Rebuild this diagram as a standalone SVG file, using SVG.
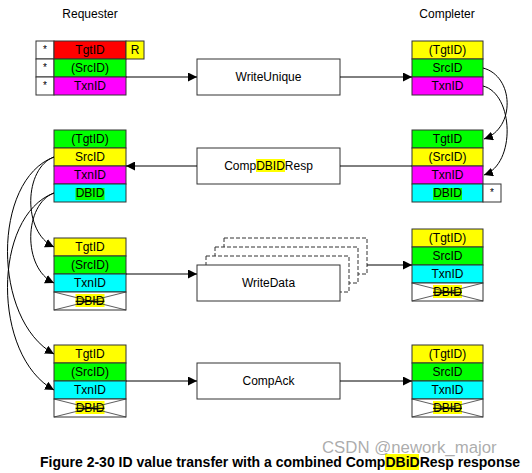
<svg xmlns="http://www.w3.org/2000/svg" width="532" height="473" viewBox="0 0 532 473">
<defs>
<style>
text{font-family:"Liberation Sans",Arial,sans-serif;font-size:12px;fill:#000;}
.c{text-anchor:middle;}
.cell{stroke:#333;stroke-width:1;}
.red{fill:#ff0000;}.grn{fill:#00ff00;}.mag{fill:#ff00ff;}.yel{fill:#ffff00;}.cyn{fill:#00ffff;}.wht{fill:#fff;}
.box{fill:#fff;stroke:#333;stroke-width:1;}
.dash{fill:#fff;stroke:#333;stroke-width:1;stroke-dasharray:4,2;}
.ln{fill:none;stroke:#000;stroke-width:1;}
.star{font-size:10px;}
.hl{fill:#ffff00;}
.hg{fill:#00ff00;}
.x{stroke:#333;stroke-width:0.8;}
</style>
<marker id="ah" viewBox="0 0 10 10" refX="10" refY="5" markerWidth="9" markerHeight="9" markerUnits="userSpaceOnUse" orient="auto">
<path d="M0,0 L10,5 L0,10 z" fill="#000"/>
</marker>
</defs>
<rect width="532" height="473" fill="#fff"/>

<text class="c" x="90" y="18">Requester</text>
<text class="c" x="447" y="18">Completer</text>

<!-- Row 1 requester -->
<g id="req1">
<rect class="cell wht" x="36" y="41" width="18" height="18"/>
<rect class="cell wht" x="36" y="59" width="18" height="18"/>
<rect class="cell wht" x="36" y="77" width="18" height="18"/>
<text class="c star" x="45" y="53">*</text>
<text class="c star" x="45" y="71">*</text>
<text class="c star" x="45" y="89">*</text>
<rect class="cell red" x="54" y="41" width="72" height="18"/>
<rect class="cell grn" x="54" y="59" width="72" height="18"/>
<rect class="cell mag" x="54" y="77" width="72" height="18"/>
<rect class="cell yel" x="126" y="41" width="18" height="18"/>
<text class="c" x="90" y="54">TgtID</text>
<text class="c" x="90" y="72">(SrcID)</text>
<text class="c" x="90" y="90">TxnID</text>
<text class="c" x="135" y="54">R</text>
</g>

<g id="cmp1">
<rect class="cell yel" x="412" y="41" width="71" height="18"/>
<rect class="cell grn" x="412" y="59" width="71" height="18"/>
<rect class="cell mag" x="412" y="77" width="71" height="18"/>
<text class="c" x="447.5" y="54">(TgtID)</text>
<text class="c" x="447.5" y="72">SrcID</text>
<text class="c" x="447.5" y="90">TxnID</text>
</g>

<g id="writeunique">
<rect class="box" x="197" y="59" width="143" height="36"/>
<text class="c" x="268.5" y="81">WriteUnique</text>
</g>

<!-- Row 2 -->
<g id="req2">
<rect class="cell grn" x="54" y="130" width="72" height="18"/>
<rect class="cell yel" x="54" y="148" width="72" height="18"/>
<rect class="cell mag" x="54" y="166" width="72" height="18"/>
<rect class="cell cyn" x="54" y="184" width="72" height="18"/>
<rect class="hg" x="75.5" y="188" width="29" height="12"/>
<text class="c" x="90" y="143">(TgtID)</text>
<text class="c" x="90" y="161">SrcID</text>
<text class="c" x="90" y="179">TxnID</text>
<text class="c" x="90" y="197">DBID</text>
</g>

<g id="cmp2">
<rect class="cell grn" x="412" y="130" width="71" height="18"/>
<rect class="cell yel" x="412" y="148" width="71" height="18"/>
<rect class="cell mag" x="412" y="166" width="71" height="18"/>
<rect class="cell cyn" x="412" y="184" width="71" height="18"/>
<rect class="cell wht" x="483" y="184" width="18" height="18"/>
<rect class="hg" x="433" y="188" width="29" height="12"/>
<text class="c" x="447.5" y="143">TgtID</text>
<text class="c" x="447.5" y="161">(SrcID)</text>
<text class="c" x="447.5" y="179">TxnID</text>
<text class="c" x="447.5" y="197">DBID</text>
<text class="c star" x="492" y="196">*</text>
</g>

<g id="compdbidresp">
<rect class="box" x="197" y="148" width="143" height="36"/>
<rect class="hl" x="256" y="159" width="29" height="13"/>
<text class="c" x="268.5" y="170">Comp<tspan>DBID</tspan>Resp</text>
</g>

<!-- Row 3 -->
<g id="req3">
<rect class="cell yel" x="54" y="238" width="72" height="18"/>
<rect class="cell grn" x="54" y="256" width="72" height="18"/>
<rect class="cell cyn" x="54" y="274" width="72" height="18"/>
<rect class="cell wht" x="54" y="292" width="72" height="18"/>
<rect class="hl" x="75.5" y="294" width="29" height="13"/>
<line class="x" x1="54" y1="292" x2="126" y2="310"/>
<line class="x" x1="54" y1="310" x2="126" y2="292"/>
<text class="c" x="90" y="251">TgtID</text>
<text class="c" x="90" y="269">(SrcID)</text>
<text class="c" x="90" y="287">TxnID</text>
<text class="c" x="90" y="305" text-decoration="line-through">DBID</text>
</g>

<g id="cmp3">
<rect class="cell yel" x="412" y="229" width="71" height="18"/>
<rect class="cell grn" x="412" y="247" width="71" height="18"/>
<rect class="cell cyn" x="412" y="265" width="71" height="18"/>
<rect class="cell wht" x="412" y="283" width="71" height="18"/>
<rect class="hl" x="433" y="285" width="29" height="13"/>
<line class="x" x1="412" y1="283" x2="483" y2="301"/>
<line class="x" x1="412" y1="301" x2="483" y2="283"/>
<text class="c" x="447.5" y="242">(TgtID)</text>
<text class="c" x="447.5" y="260">SrcID</text>
<text class="c" x="447.5" y="278">TxnID</text>
<text class="c" x="447.5" y="296" text-decoration="line-through">DBID</text>
</g>

<g id="writedata">
<rect class="dash" x="224" y="238" width="143" height="36"/>
<rect class="dash" x="215" y="247" width="143" height="36"/>
<rect class="dash" x="206" y="256" width="143" height="36"/>
<rect class="box" x="197" y="265" width="143" height="36"/>
<text class="c" x="268.5" y="287">WriteData</text>
</g>

<!-- Row 4 -->
<g id="req4">
<rect class="cell yel" x="54" y="345" width="72" height="18"/>
<rect class="cell grn" x="54" y="363" width="72" height="18"/>
<rect class="cell cyn" x="54" y="381" width="72" height="18"/>
<rect class="cell wht" x="54" y="399" width="72" height="18"/>
<rect class="hl" x="75.5" y="401" width="29" height="13"/>
<line class="x" x1="54" y1="399" x2="126" y2="417"/>
<line class="x" x1="54" y1="417" x2="126" y2="399"/>
<text class="c" x="90" y="358">TgtID</text>
<text class="c" x="90" y="376">(SrcID)</text>
<text class="c" x="90" y="394">TxnID</text>
<text class="c" x="90" y="412" text-decoration="line-through">DBID</text>
</g>

<g id="cmp4">
<rect class="cell yel" x="412" y="345" width="71" height="18"/>
<rect class="cell grn" x="412" y="363" width="71" height="18"/>
<rect class="cell cyn" x="412" y="381" width="71" height="18"/>
<rect class="cell wht" x="412" y="399" width="71" height="18"/>
<rect class="hl" x="433" y="401" width="29" height="13"/>
<line class="x" x1="412" y1="399" x2="483" y2="417"/>
<line class="x" x1="412" y1="417" x2="483" y2="399"/>
<text class="c" x="447.5" y="358">(TgtID)</text>
<text class="c" x="447.5" y="376">SrcID</text>
<text class="c" x="447.5" y="394">TxnID</text>
<text class="c" x="447.5" y="412" text-decoration="line-through">DBID</text>
</g>

<g id="compack">
<rect class="box" x="197" y="363" width="143" height="36"/>
<text class="c" x="268.5" y="385">CompAck</text>
</g>

<g id="connectors">
<line class="ln" x1="126" y1="77" x2="197" y2="77" marker-end="url(#ah)"/>
<line class="ln" x1="340" y1="77" x2="412" y2="77" marker-end="url(#ah)"/>
<line class="ln" x1="412" y1="166" x2="340" y2="166"/>
<line class="ln" x1="197" y1="166" x2="126" y2="166" marker-end="url(#ah)"/>
<line class="ln" x1="126" y1="274" x2="197" y2="274" marker-end="url(#ah)"/>
<line class="ln" x1="367" y1="265" x2="412" y2="265" marker-end="url(#ah)"/>
<line class="ln" x1="126" y1="381" x2="197" y2="381" marker-end="url(#ah)"/>
<line class="ln" x1="340" y1="381" x2="412" y2="381" marker-end="url(#ah)"/>
<path class="ln" d="M483,68 C514,76 516,128 484,139" marker-end="url(#ah)"/>
<path class="ln" d="M483,86 C514,94 516,164 484,175" marker-end="url(#ah)"/>
<path class="ln" d="M54,157 C24,168 22,232 54,247" marker-end="url(#ah)"/>
<path class="ln" d="M54,193 C24,204 22,268 54,283" marker-end="url(#ah)"/>
<path class="ln" d="M54,157 C-8,180 -8,320 54,354" marker-end="url(#ah)"/>
<path class="ln" d="M54,193 C-8,216 -8,356 54,390" marker-end="url(#ah)"/>
</g>

<rect class="hl" x="385" y="454" width="34" height="16"/>
<text x="40" y="467" style="font-weight:bold;font-size:14px">Figure 2-30 ID value transfer with a combined Comp<tspan>DBiD</tspan>Resp response</text>
<text x="322" y="453" style="font-size:16.8px;fill:#888;fill-opacity:0.7">CSDN @nework_major</text>
</svg>
